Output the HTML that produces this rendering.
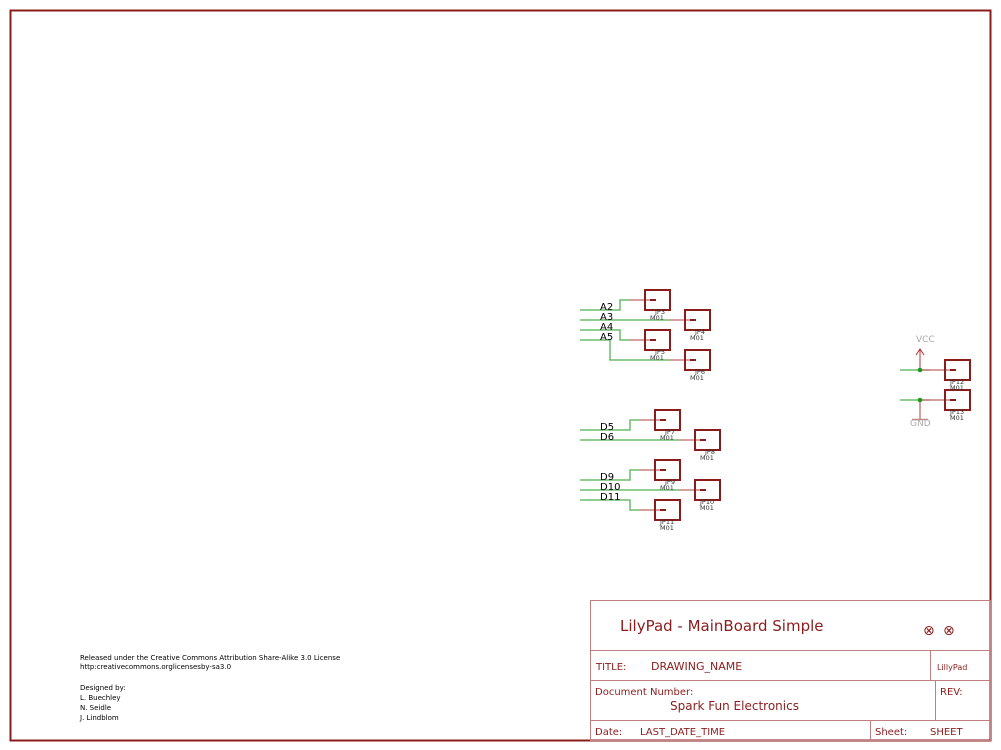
<!DOCTYPE html>
<html><head><meta charset="utf-8"><style>
html,body{margin:0;padding:0;background:#fff;width:1001px;height:750px;overflow:hidden}
svg{display:block}
text{font-family:"DejaVu Sans","Liberation Sans",sans-serif}
</style></head><body>
<svg width="1001" height="750" viewBox="0 0 1001 750" xmlns="http://www.w3.org/2000/svg">
<rect x="10.5" y="10.5" width="980" height="730" fill="none" stroke="#8b1c1c" stroke-width="2"/>
<g stroke="#c08080" stroke-width="1" fill="none">
<rect x="590.5" y="600.5" width="400" height="140"/>
<line x1="590" y1="650.5" x2="990" y2="650.5"/>
<line x1="590" y1="680.5" x2="990" y2="680.5"/>
<line x1="590" y1="720.5" x2="990" y2="720.5"/>
<line x1="930.5" y1="650" x2="930.5" y2="680"/>
<line x1="935.5" y1="680" x2="935.5" y2="720"/>
<line x1="870.5" y1="720" x2="870.5" y2="740"/>
</g>
<g fill="#8b1c1c">
<text x="620" y="631" font-size="15">LilyPad - MainBoard Simple</text>
<text x="923" y="635" font-size="14">⊗</text>
<text x="943" y="635" font-size="14">⊗</text>
<text x="596" y="670" font-size="10">TITLE:</text>
<text x="651" y="670" font-size="11">DRAWING_NAME</text>
<text x="937" y="670" font-size="8">LillyPad</text>
<text x="595" y="695" font-size="10">Document Number:</text>
<text x="940" y="695" font-size="10">REV:</text>
<text x="670" y="710" font-size="12">Spark Fun Electronics</text>
<text x="595" y="735" font-size="10">Date:</text>
<text x="640" y="735" font-size="10">LAST_DATE_TIME</text>
<text x="875" y="735" font-size="10">Sheet:</text>
<text x="930" y="735" font-size="10">SHEET</text>
</g>
<g fill="#000" font-size="7">
<text x="80" y="660">Released under the Creative Commons Attribution Share-Alike 3.0 License</text>
<text x="80" y="669">http:creativecommons.orglicensesby-sa3.0</text>
<text x="80" y="690">Designed by:</text>
<text x="80" y="700">L. Buechley</text>
<text x="80" y="710">N. Seidle</text>
<text x="80" y="720">J. Lindblom</text>
</g>
<g stroke="#6dbb6d" stroke-width="1.5" fill="none">
<polyline points="580,310 620,310 620,300 630,300"/>
<polyline points="580,320 670,320"/>
<polyline points="580,330 620,330 620,340 630,340"/>
<polyline points="580,340 610,340 610,360 670,360"/>
<polyline points="580,430 630,430 630,420 640,420"/>
<polyline points="580,440 680,440"/>
<polyline points="580,480 630,480 630,470 640,470"/>
<polyline points="580,490 680,490"/>
<polyline points="580,500 630,500 630,510 640,510"/>
<polyline points="900,370 930,370"/>
<polyline points="900,400 930,400"/>
</g>
<g stroke="#c88080" stroke-width="1.5">
<line x1="630" y1="300" x2="650" y2="300"/>
<line x1="670" y1="320" x2="690" y2="320"/>
<line x1="630" y1="340" x2="650" y2="340"/>
<line x1="670" y1="360" x2="690" y2="360"/>
<line x1="640" y1="420" x2="660" y2="420"/>
<line x1="680" y1="440" x2="700" y2="440"/>
<line x1="640" y1="470" x2="660" y2="470"/>
<line x1="680" y1="490" x2="700" y2="490"/>
<line x1="640" y1="510" x2="660" y2="510"/>
<line x1="920" y1="370" x2="950" y2="370"/>
<line x1="920" y1="400" x2="950" y2="400"/>
<line x1="920" y1="400" x2="920" y2="419"/>
<line x1="912" y1="419.5" x2="928" y2="419.5"/>
</g>
<g font-size="10" fill="#000">
<text x="600" y="310">A2</text><text x="600" y="320">A3</text><text x="600" y="330">A4</text><text x="600" y="340">A5</text>
<text x="600" y="430">D5</text><text x="600" y="440">D6</text>
<text x="600" y="480">D9</text><text x="600" y="490">D10</text><text x="600" y="500">D11</text>
</g>
<g stroke="#8b1c1c" fill="none">
<g stroke-width="2">
<rect x="645" y="290" width="25" height="20"/><rect x="685" y="310" width="25" height="20"/>
<rect x="645" y="330" width="25" height="20"/><rect x="685" y="350" width="25" height="20"/>
<rect x="655" y="410" width="25" height="20"/><rect x="695" y="430" width="25" height="20"/>
<rect x="655" y="460" width="25" height="20"/><rect x="695" y="480" width="25" height="20"/>
<rect x="655" y="500" width="25" height="20"/>
<rect x="945" y="360" width="25" height="20"/><rect x="945" y="390" width="25" height="20"/>
</g>
<g stroke-width="2">
<line x1="650" y1="300" x2="656" y2="300"/><line x1="690" y1="320" x2="696" y2="320"/>
<line x1="650" y1="340" x2="656" y2="340"/><line x1="690" y1="360" x2="696" y2="360"/>
<line x1="660" y1="420" x2="666" y2="420"/><line x1="700" y1="440" x2="706" y2="440"/>
<line x1="660" y1="470" x2="666" y2="470"/><line x1="700" y1="490" x2="706" y2="490"/>
<line x1="660" y1="510" x2="666" y2="510"/>
<line x1="950" y1="370" x2="956" y2="370"/><line x1="950" y1="400" x2="956" y2="400"/>
</g>
<line x1="920" y1="370" x2="920" y2="350" stroke="#b03030"/>
<polyline points="916,355 920,349 924,355" stroke="#b03030"/>
</g>
<circle cx="920" cy="370" r="2.3" fill="#1a9a1a"/>
<circle cx="920" cy="400" r="2.3" fill="#1a9a1a"/>
<g font-size="6.5" fill="#333">
<text x="655" y="314">JP3</text><text x="650" y="320">M01</text>
<text x="695" y="334">JP4</text><text x="690" y="340">M01</text>
<text x="655" y="354">JP5</text><text x="650" y="360">M01</text>
<text x="695" y="374">JP6</text><text x="690" y="380">M01</text>
<text x="665" y="434">JP7</text><text x="660" y="440">M01</text>
<text x="705" y="454">JP8</text><text x="700" y="460">M01</text>
<text x="665" y="484">JP9</text><text x="660" y="490">M01</text>
<text x="700" y="504">JP10</text><text x="700" y="510">M01</text>
<text x="660" y="524">JP11</text><text x="660" y="530">M01</text>
<text x="950" y="384">JP12</text><text x="950" y="390">M01</text>
<text x="950" y="414">JP13</text><text x="950" y="420">M01</text>
</g>
<text x="916" y="342" font-size="9" fill="#aaa">VCC</text>
<text x="910" y="426" font-size="9" fill="#aaa">GND</text>
</svg>
</body></html>
